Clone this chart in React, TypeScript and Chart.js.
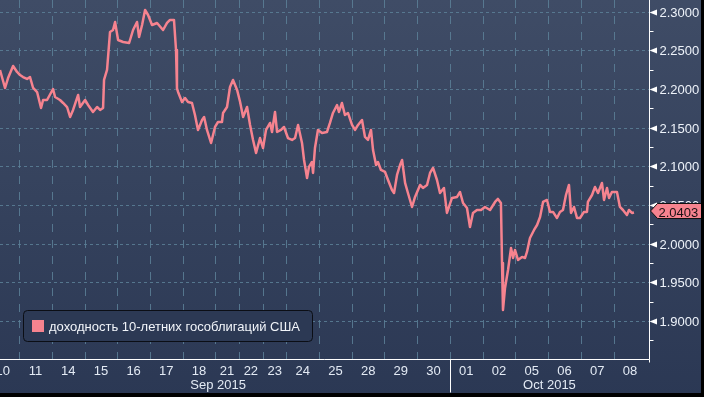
import { useEffect, useRef } from "react";
import { Chart, registerables } from "chart.js";

Chart.register(...registerables);

// Trading days shown on the axis and their relative session lengths (hours)
const dayLabels = ["10", "11", "14", "15", "16", "17", "18", "21", "22", "23", "24", "25", "28", "29", "30", "01", "02", "05", "06", "07", "08"];
const dayHours = [24, 24, 24, 24, 24, 24, 24, 17, 18, 17, 24, 24, 24, 24, 24, 24, 24, 24, 24, 24, 24];
const monthLabels = ["Sep 2015", "Oct 2015"];
const monthStartDay = [0, 15];
const yTickValues = [1.9, 1.95, 2.0, 2.05, 2.1, 2.15, 2.2, 2.25, 2.3];
const seriesLabel = "доходность 10-летних гособлигаций США";
const lastLabel = "2.0403";
const lastValue = 2.0403;
const xMin = 10;
const xMax = 486;
const yMin = 1.8508;
const yMax = 2.3151;

// position in session hours since start of Sep 10
const hours = [10.0, 13.7, 15.9, 19.6, 22.5, 24.7, 26.9, 29.8, 32.0, 34.3, 37.2, 40.1, 41.6, 44.5, 48.9, 50.4, 54.0, 56.3, 59.2, 61.4, 63.6, 67.3, 68.7, 72.4, 74.6, 78.2, 81.2, 83.4, 85.6, 86.3, 88.5, 90.7, 92.9, 94.4, 96.6, 100.3, 104.7, 107.6, 110.5, 112.0, 114.2, 116.4, 118.6, 121.5, 125.2, 129.6, 132.5, 134.7, 137.6, 139.1, 139.8, 140.6, 143.5, 145.7, 147.9, 150.8, 153.0, 155.2, 158.2, 159.7, 161.8, 164.8, 167.7, 169.9, 172.8, 173.6, 176.5, 178.7, 180.9, 183.9, 186.1, 188.3, 191.2, 193.4, 195.6, 197.8, 200.7, 202.9, 205.1, 208.1, 209.5, 211.7, 213.2, 216.1, 218.3, 221.2, 224.2, 226.4, 228.6, 231.5, 233.0, 235.2, 236.6, 238.8, 239.6, 241.0, 243.2, 246.2, 249.8, 252.0, 254.2, 257.2, 258.6, 260.8, 263.0, 265.2, 268.2, 270.4, 272.6, 275.5, 277.7, 279.9, 282.1, 283.6, 285.8, 287.2, 289.4, 292.4, 294.6, 297.5, 299.0, 301.2, 303.4, 304.9, 307.1, 309.2, 312.2, 314.4, 318.1, 320.2, 323.2, 325.4, 327.6, 330.5, 332.7, 335.6, 337.8, 341.5, 345.2, 347.4, 349.6, 352.5, 354.7, 356.9, 359.8, 362.8, 365.7, 369.4, 373.1, 375.2, 377.4, 378.2, 378.9, 380.4, 382.6, 384.8, 386.3, 387.7, 389.9, 392.9, 395.1, 396.5, 398.7, 401.7, 403.9, 406.1, 408.3, 411.2, 413.4, 415.6, 418.5, 420.7, 422.9, 425.1, 427.3, 428.8, 431.0, 433.2, 435.4, 438.3, 440.5, 441.2, 444.2, 446.4, 448.6, 451.5, 453.0, 455.2, 456.7, 458.8, 462.5, 464.7, 466.9, 469.8, 471.3, 473.5, 475.0];

const yields = [2.2246, 2.2013, 2.2142, 2.2298, 2.2220, 2.2181, 2.2155, 2.2130, 2.2155, 2.2013, 2.1961, 2.1754, 2.1858, 2.1858, 2.2000, 2.1897, 2.1858, 2.1819, 2.1767, 2.1638, 2.1729, 2.1923, 2.1767, 2.1858, 2.1793, 2.1703, 2.1767, 2.1729, 2.1754, 2.2117, 2.2246, 2.2738, 2.2763, 2.2867, 2.2634, 2.2608, 2.2595, 2.2763, 2.2867, 2.2673, 2.2828, 2.3022, 2.2957, 2.2828, 2.2854, 2.2763, 2.2854, 2.2893, 2.2893, 2.2505, 2.2008, 2.1962, 2.1832, 2.1884, 2.1832, 2.1819, 2.1664, 2.1470, 2.1599, 2.1638, 2.1470, 2.1302, 2.1509, 2.1573, 2.1573, 2.1690, 2.1767, 2.2026, 2.2117, 2.1988, 2.1832, 2.1638, 2.1767, 2.1535, 2.1341, 2.1173, 2.1366, 2.1237, 2.1470, 2.1561, 2.1444, 2.1703, 2.1444, 2.1470, 2.1509, 2.1366, 2.1341, 2.1366, 2.1535, 2.1302, 2.1082, 2.0849, 2.0992, 2.1056, 2.0914, 2.1237, 2.1470, 2.1431, 2.1444, 2.1561, 2.1690, 2.1793, 2.1703, 2.1819, 2.1664, 2.1690, 2.1535, 2.1470, 2.1535, 2.1599, 2.1380, 2.1341, 2.1470, 2.1211, 2.1017, 2.1056, 2.0953, 2.0927, 2.0823, 2.0694, 2.0655, 2.0888, 2.1017, 2.1082, 2.0785, 2.0655, 2.0474, 2.0604, 2.0759, 2.0720, 2.0759, 2.0914, 2.0979, 2.0823, 2.0655, 2.0720, 2.0397, 2.0591, 2.0604, 2.0668, 2.0526, 2.0461, 2.0216, 2.0397, 2.0435, 2.0435, 2.0474, 2.0435, 2.0539, 2.0578, 2.0526, 1.9750, 1.9142, 1.9427, 1.9659, 1.9944, 1.9815, 1.9918, 1.9789, 1.9828, 1.9815, 1.9892, 2.0073, 2.0177, 2.0241, 2.0345, 2.0539, 2.0565, 2.0410, 2.0410, 2.0332, 2.0410, 2.0435, 2.0629, 2.0759, 2.0397, 2.0474, 2.0332, 2.0332, 2.0410, 2.0410, 2.0539, 2.0629, 2.0733, 2.0655, 2.0785, 2.0565, 2.0720, 2.0591, 2.0668, 2.0668, 2.0474, 2.0435, 2.0371, 2.0435, 2.0397, 2.0403];

const LINE = "#f6838f";
const GRID = "rgba(92,128,152,0.85)";
const FONT = '13px "Liberation Sans", Arial, sans-serif';

export default function App() {
  const ref = useRef<HTMLCanvasElement>(null);

  useEffect(() => {
    const canvas = ref.current!;
    const starts: number[] = [];
    let acc = 0;
    for (const h of dayHours) {
      starts.push(acc);
      acc += h;
    }

    const plugin = {
      id: "bbgStyle",
      beforeDraw(chart: any) {
        const { ctx, width, height } = chart;
        ctx.save();
        const g = ctx.createLinearGradient(0, 0, 0, height);
        g.addColorStop(0, "#3f4c66");
        g.addColorStop(1, "#2b3854");
        ctx.fillStyle = g;
        ctx.fillRect(0, 0, width, height);
        ctx.restore();
      },
      beforeDatasetsDraw(chart: any) {
        const { ctx, chartArea, scales } = chart;
        const xs = scales.x;
        const ys = scales.y;
        ctx.save();
        ctx.strokeStyle = GRID;
        ctx.lineWidth = 1;
        ctx.setLineDash([3, 3]);
        for (const v of yTickValues) {
          const y = Math.round(ys.getPixelForValue(v)) + 0.5;
          ctx.beginPath();
          ctx.moveTo(chartArea.left, y);
          ctx.lineTo(chartArea.right, y);
          ctx.stroke();
        }
        ctx.setLineDash([8, 8]);
        for (let i = 1; i < starts.length; i++) {
          const x = Math.round(xs.getPixelForValue(starts[i])) + 0.5;
          ctx.beginPath();
          ctx.moveTo(x, chartArea.top);
          ctx.lineTo(x, chartArea.bottom);
          ctx.stroke();
        }
        ctx.restore();
      },
      afterDatasetsDraw(chart: any) {
        const { ctx, chartArea, scales } = chart;
        const xs = scales.x;
        const ys = scales.y;
        const R = Math.round(chartArea.right) + 0.5;
        const B = Math.round(chartArea.bottom) + 0.5;
        ctx.save();
        // axis lines
        ctx.strokeStyle = "#ffffff";
        ctx.lineWidth = 1;
        ctx.beginPath();
        ctx.moveTo(R, 0);
        ctx.lineTo(R, B);
        ctx.lineTo(0, B);
        ctx.moveTo(R, B);
        ctx.lineTo(R, B + 3);
        ctx.stroke();

        // y ticks
        ctx.font = FONT;
        ctx.textAlign = "left";
        ctx.textBaseline = "alphabetic";
        for (let i = 0; i < yTickValues.length; i++) {
          const v = yTickValues[i];
          const y = ys.getPixelForValue(v);
          const yy = Math.round(y) + 0.5;
          ctx.fillStyle = "#ffffff";
          ctx.beginPath();
          ctx.moveTo(R, yy);
          ctx.lineTo(R + 7.5, yy - 3);
          ctx.lineTo(R + 7.5, yy + 3);
          ctx.closePath();
          ctx.fill();
          ctx.fillStyle = "#eef3fa";
          ctx.fillText(v.toFixed(4), R + 10, y + 5);
          const mv = v - 0.025;
          if (mv > yMin) {
            const my = Math.round(ys.getPixelForValue(mv)) + 0.5;
            ctx.beginPath();
            ctx.moveTo(R, my);
            ctx.lineTo(R + 4, my);
            ctx.stroke();
          }
        }
        const topMinor = yTickValues[yTickValues.length - 1] + 0.025;
        if (topMinor < yMax) {
          const my = Math.round(ys.getPixelForValue(topMinor)) + 0.5;
          ctx.beginPath();
          ctx.moveTo(R, my);
          ctx.lineTo(R + 4, my);
          ctx.stroke();
        }

        // x day labels
        ctx.textAlign = "center";
        ctx.fillStyle = "#e3eaf4";
        for (let i = 0; i < dayLabels.length; i++) {
          const mid = starts[i] + dayHours[i] / 2;
          ctx.fillText(dayLabels[i], xs.getPixelForValue(mid), B + 15);
        }
        // months
        for (let m = 0; m < monthLabels.length; m++) {
          const x0 = xs.getPixelForValue(starts[monthStartDay[m]]);
          const x1 = m + 1 < monthLabels.length ? xs.getPixelForValue(starts[monthStartDay[m + 1]]) : chartArea.right;
          ctx.fillText(monthLabels[m], (x0 + x1) / 2, B + 29);
          if (m > 0) {
            const sx = Math.round(x0) + 0.5;
            ctx.beginPath();
            ctx.moveTo(sx, B);
            ctx.lineTo(sx, B + 33);
            ctx.stroke();
          }
        }

        // legend
        ctx.beginPath();
        (ctx as any).roundRect(23.5, 310.5, 289, 31, 4);
        ctx.fillStyle = "#2c3954";
        ctx.fill();
        ctx.strokeStyle = "#0b0e15";
        ctx.stroke();
        ctx.fillStyle = LINE;
        ctx.fillRect(32, 320, 12, 12);
        ctx.fillStyle = "#f2f5fa";
        ctx.textAlign = "left";
        ctx.fillText(seriesLabel, 49, 331);

        // last value tag
        const py = ys.getPixelForValue(lastValue);
        const top = Math.round(py - 9) + 0.5;
        const bot = Math.round(py + 6) + 0.5;
        const mid = (top + bot) / 2;
        ctx.beginPath();
        ctx.moveTo(R + 1, mid);
        ctx.lineTo(R + 8, top);
        ctx.lineTo(702, top);
        ctx.lineTo(702, bot);
        ctx.lineTo(R + 8, bot);
        ctx.closePath();
        ctx.fillStyle = LINE;
        ctx.fill();
        ctx.strokeStyle = "#111111";
        ctx.stroke();
        ctx.fillStyle = "#1a1214";
        ctx.fillText(lastLabel, R + 9, py + 4.5);
        ctx.restore();
      },
      afterDraw(chart: any) {
        const { ctx, width, height } = chart;
        ctx.save();
        ctx.fillStyle = "#000000";
        ctx.fillRect(701, 0, width - 701, height);
        ctx.fillRect(0, 393, width, height - 393);
        ctx.restore();
      },
    };

    const n = Math.min(hours.length, yields.length);
    const points = [];
    for (let i = 0; i < n; i++) points.push({ x: hours[i], y: yields[i] });

    const chart = new Chart(canvas, {
      type: "line",
      data: {
        datasets: [
          {
            label: seriesLabel,
            data: points,
            borderColor: LINE,
            borderWidth: 2.5,
            borderJoinStyle: "round",
            pointRadius: 0,
            tension: 0,
            fill: false,
          },
        ],
      },
      options: {
        animation: false,
        responsive: false,
        devicePixelRatio: 1,
        layout: { padding: 0 },
        plugins: { legend: { display: false }, tooltip: { enabled: false } },
        scales: {
          x: {
            type: "linear",
            min: xMin,
            max: xMax,
            grid: { display: false },
            border: { display: false },
            ticks: { display: false },
            afterFit: (s: any) => {
              s.height = 38;
            },
          },
          y: {
            position: "right",
            min: yMin,
            max: yMax,
            grid: { display: false },
            border: { display: false },
            ticks: { display: false },
            afterFit: (s: any) => {
              s.width = 55;
            },
          },
        },
      },
      plugins: [plugin],
    });
    return () => chart.destroy();
  }, []);

  return (
    <div style={{ position: "absolute", left: 0, top: 0, width: 704, height: 397 }}>
      <canvas ref={ref} width={704} height={397} style={{ display: "block" }} />
    </div>
  );
}
